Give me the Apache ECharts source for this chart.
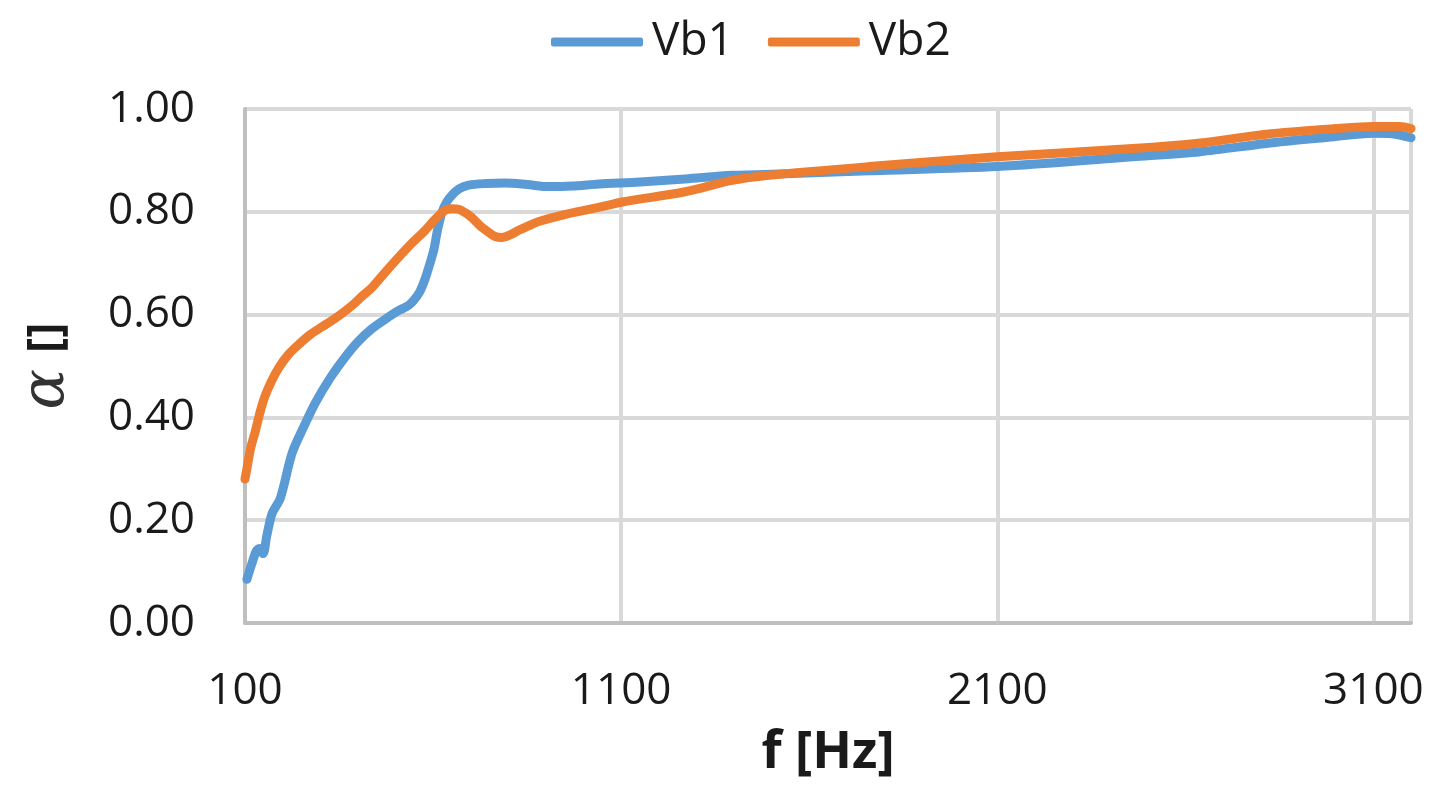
<!DOCTYPE html>
<html>
<head>
<meta charset="utf-8">
<script src="https://cdn.jsdelivr.net/npm/echarts@6/dist/echarts.min.js"></script>
<style>
  html, body { margin: 0; padding: 0; background: #fff; }
  #chart { width: 1432px; height: 794px; }
</style>
</head>
<body>
<div id="chart"></div>
<script>
// frequencies [Hz] and absorption values
const freqVb1 = [105, 118, 130, 138, 148, 158, 172, 194, 225, 255, 286, 325, 366, 400, 438, 475, 509, 535, 549, 565, 579, 592, 602, 612, 624, 637, 651, 670, 695, 740, 792, 850, 908, 970, 1041, 1150, 1270, 1395, 1500, 1760, 2100, 2460, 2640, 2815, 2980, 3100, 3150, 3200]
const alphaVb1 = [0.085, 0.115, 0.14, 0.145, 0.135, 0.17, 0.213, 0.243, 0.33, 0.38, 0.427, 0.475, 0.517, 0.547, 0.573, 0.592, 0.608, 0.618, 0.628, 0.645, 0.67, 0.70, 0.726, 0.765, 0.80, 0.82, 0.833, 0.845, 0.852, 0.855, 0.856, 0.853, 0.849, 0.85, 0.854, 0.858, 0.864, 0.871, 0.873, 0.88, 0.888, 0.907, 0.917, 0.933, 0.945, 0.953, 0.952, 0.944]

const freqVb2 = [100, 105, 115, 127, 140, 153, 170, 190, 215, 243, 275, 313, 350, 385, 410, 438, 470, 509, 545, 579, 605, 632, 650, 668, 686, 704, 726, 748, 765, 783, 805, 828, 855, 881, 952, 1049, 1103, 1270, 1395, 1493, 1760, 2100, 2460, 2640, 2815, 3000, 3100, 3170, 3200]
const alphaVb2 = [0.28, 0.30, 0.34, 0.372, 0.41, 0.441, 0.47, 0.497, 0.522, 0.542, 0.562, 0.58, 0.598, 0.618, 0.635, 0.653, 0.68, 0.712, 0.74, 0.764, 0.785, 0.803, 0.806, 0.805, 0.798, 0.788, 0.772, 0.76, 0.752, 0.75, 0.755, 0.764, 0.773, 0.781, 0.795, 0.81, 0.819, 0.839, 0.861, 0.871, 0.888, 0.907, 0.923, 0.934, 0.951, 0.962, 0.966, 0.966, 0.962]

const seriesNames = ['Vb1', 'Vb2']
const colors = ['#5b9bd5', '#ed7d31']

const pairs = (xs, ys) => xs.map((x, i) => [x, ys[i]])

const chart = echarts.init(document.getElementById('chart'))

chart.setOption({
  animation: false,
  color: colors,
  textStyle: { fontFamily: 'Open Sans', color: '#1a1a1a' },
  legend: {
    top: 14,
    left: 546,
    icon: 'roundRect',
    itemWidth: 92,
    itemHeight: 9,
    itemGap: 34,
    data: seriesNames,
    textStyle: { fontSize: 46, color: '#1a1a1a', fontFamily: 'Open Sans', padding: [0, 0, 0, 4] }
  },
  grid: { left: 245, right: 21, top: 109, bottom: 171 },
  xAxis: {
    type: 'value',
    min: 100,
    max: 3200,
    interval: 1000,
    name: 'f [Hz]',
    nameLocation: 'middle',
    nameGap: 104,
    nameTextStyle: { fontSize: 52, fontWeight: 'bold', color: '#1a1a1a' },
    axisLine: { show: true, lineStyle: { color: '#bfbfbf', width: 4 } },
    axisTick: { show: false },
    axisLabel: { fontSize: 44, margin: 46, color: '#1a1a1a', showMaxLabel: false, formatter: v => String(v) },
    splitLine: { show: true, lineStyle: { color: '#d9d9d9', width: 4 } }
  },
  yAxis: {
    type: 'value',
    min: 0,
    max: 1,
    interval: 0.2,
    name: '{a|α}{s| }{b|[]}',
    nameLocation: 'middle',
    nameGap: 168,
    nameTextStyle: {
      rich: {
        a: { fontSize: 60, fontFamily: 'DejaVu Serif', fontStyle: 'italic', color: '#333' },
        s: { fontSize: 40, width: 16 },
        b: { fontSize: 46, fontWeight: 'bold', color: '#1a1a1a' }
      }
    },
    axisLine: { show: true, lineStyle: { color: '#bfbfbf', width: 4 } },
    axisTick: { show: false },
    axisLabel: { fontSize: 44, margin: 50, color: '#1a1a1a', formatter: v => v.toFixed(2) },
    splitLine: { show: true, lineStyle: { color: '#d9d9d9', width: 4 } }
  },
  series: [
    {
      name: seriesNames[0],
      type: 'line',
      showSymbol: false,
      smooth: 0.3,
      data: pairs(freqVb1, alphaVb1),
      lineStyle: { width: 9, cap: 'round', join: 'round' }
    },
    {
      name: seriesNames[1],
      type: 'line',
      showSymbol: false,
      smooth: 0.3,
      data: pairs(freqVb2, alphaVb2),
      lineStyle: { width: 9, cap: 'round', join: 'round' }
    }
  ]
})
</script>
</body>
</html>
